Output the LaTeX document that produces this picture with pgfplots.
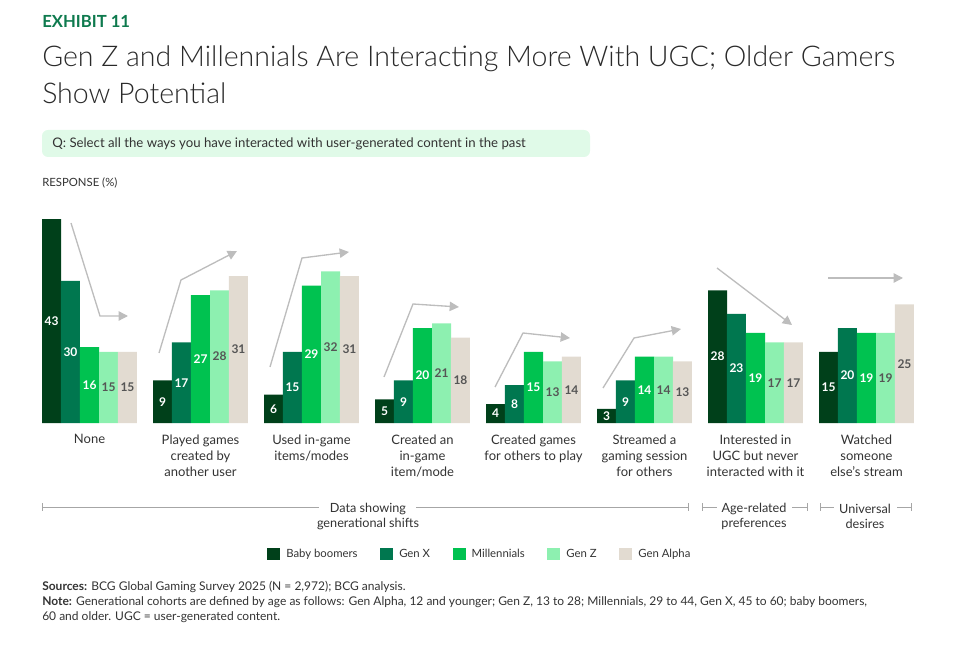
\documentclass[border=0pt]{standalone}
\usepackage{fontspec}
\setmainfont{Lato}
\newfontfamily\lightfont{Lato Light}
\usepackage{pgfplots}
\usepackage{pgfplotstable}
\pgfplotsset{compat=1.18}
\usetikzlibrary{arrows.meta}

% Cohort colours
\definecolor{boomer}{HTML}{00401A}
\definecolor{genx}{HTML}{00774F}
\definecolor{millen}{HTML}{00C250}
\definecolor{genz}{HTML}{8DF0B0}
\definecolor{alpha}{HTML}{E2DBD1}
% Text and rule colours
\definecolor{exhibit}{HTML}{0E7A4E}
\definecolor{titleink}{HTML}{2A2A2A}
\definecolor{inktext}{HTML}{333333}
\definecolor{valgray}{HTML}{555555}
\definecolor{trend}{HTML}{BDBDBD}
\definecolor{rulegray}{HTML}{A6A6A6}
\definecolor{qbox}{HTML}{E0FAE8}

% Share of respondents (%) by activity (g) and cohort
\pgfplotstableread{
g  bb  gx  mil  gz  ga
0  43  30  16   15  15
1  9   17  27   28  31
2  6   15  29   32  31
3  5   9   20   21  18
4  4   8   15   13  14
5  3   9   14   14  13
6  28  23  19   17  17
7  15  20  19   19  25
}\shares

\pgfplotsset{
  sqlegend/.style={legend image code/.code={\fill[##1] (0pt,-4.3pt) rectangle (9.75pt,4.3pt);}},
  cohortbar/.style={ybar, bar width=0.1712, bar shift=#1, draw=none, sqlegend},
  vlabel/.style={forget plot, draw=none, mark=none, nodes near coords,
    point meta=explicit,
    /pgf/number format/assume math mode=true,
    nodes near coords style={anchor=center, inner sep=0pt,
      font=\bfseries\fontsize{9}{10}\selectfont, text=#1}},
}

\begin{document}
\begin{tikzpicture}
\useasboundingbox (0,0) rectangle (723pt,485.25pt);

\begin{axis}[
  at={(25.5pt,168pt)}, anchor=south west,
  scale only axis, width=666pt, height=160pt,
  xmin=-0.5, xmax=7.5, ymin=0, ymax=45,
  clip=false,
  axis line style={draw=none},
  tick style={draw=none},
  major tick length=0pt,
  ytick=\empty,
  xtick={0,...,7},
  xticklabels={
    None,
    {Played games\\created by\\another user},
    {Used in-game\\items/modes},
    {Created an\\in-game\\item/mode},
    {Created games\\for others to play},
    {Streamed a\\gaming session\\for others},
    {Interested in\\UGC but never\\interacted with it},
    {Watched\\someone\\else’s stream}},
  xticklabel style={align=center, anchor=north, inner sep=0pt, yshift=-8.5pt,
    font=\fontsize{9.75}{12}\selectfont, text=inktext},
  legend columns=5,
  legend style={at={(0.2624,-0.614)}, anchor=west, draw=none, inner sep=0pt,
    font=\fontsize{8.5}{10}\selectfont, text=inktext,
    /tikz/every odd column/.append style={column sep=2.5pt},
    /tikz/every even column/.append style={column sep=15pt}},
]
\addplot[cohortbar=-0.3423, fill=boomer] table[x=g, y=bb] {\shares};
\addplot[cohortbar=-0.1712, fill=genx]   table[x=g, y=gx] {\shares};
\addplot[cohortbar=0,       fill=millen] table[x=g, y=mil] {\shares};
\addplot[cohortbar=0.1712,  fill=genz]   table[x=g, y=gz] {\shares};
\addplot[cohortbar=0.3423,  fill=alpha]  table[x=g, y=ga] {\shares};
\legend{Baby boomers, Gen X, Millennials, Gen Z, Gen Alpha}

% value labels, centred inside each bar
\addplot[vlabel=white]   table[x expr=\thisrow{g}-0.3423, y expr=\thisrow{bb}/2,  meta=bb]  {\shares};
\addplot[vlabel=white]   table[x expr=\thisrow{g}-0.1712, y expr=\thisrow{gx}/2,  meta=gx]  {\shares};
\addplot[vlabel=white]   table[x expr=\thisrow{g},        y expr=\thisrow{mil}/2, meta=mil] {\shares};
\addplot[vlabel=valgray] table[x expr=\thisrow{g}+0.1712, y expr=\thisrow{gz}/2,  meta=gz]  {\shares};
\addplot[vlabel=valgray] table[x expr=\thisrow{g}+0.3423, y expr=\thisrow{ga}/2,  meta=ga]  {\shares};
\end{axis}

% page furniture in a top-left based grid (1 unit = 0.75pt)
\begin{scope}[x=0.75pt, y=-0.75pt, yshift=485.25pt]
  \node[anchor=base west, inner sep=0pt, text=exhibit,
    font=\bfseries\fontsize{12.5}{14}\selectfont] at (42,28) {EXHIBIT 11};
  \node[anchor=base west, inner sep=0pt, text=titleink,
    font=\lightfont\fontsize{21.4}{25}\selectfont] at (42,67)
    {Gen Z and Millennials Are Interacting More With UGC; Older Gamers};
  \node[anchor=base west, inner sep=0pt, text=titleink,
    font=\lightfont\fontsize{21.4}{25}\selectfont] at (42,104) {Show Potential};

  \fill[qbox, rounded corners=4.5pt] (42,130) rectangle (590,157);
  \node[anchor=base west, inner sep=0pt, text=inktext,
    font=\fontsize{9.9}{12}\selectfont] at (52,148)
    {Q: Select all the ways you have interacted with user-generated content in the past};

  \node[anchor=base west, inner sep=0pt, text=inktext,
    font=\fontsize{8.5}{10}\selectfont] at (42,187) {RESPONSE (\%)};

  % trend arrows above each group
  \begin{scope}[draw=trend, line width=1pt, -{Triangle[length=7pt, width=7pt]}]
    \draw (71,223) -- (100,316) -- (128,316);
    \draw (159,353) -- (181,280) -- (237,251);
    \draw (270,367) -- (302,258) -- (349,252);
    \draw (384,377) -- (413,304) -- (459,307);
    \draw (495,387) -- (523,333) -- (570,338);
    \draw (603,388) -- (634,338) -- (681,329);
    \draw (717,268) -- (792,325);
    \draw (828,278) -- (903,278);
  \end{scope}

  % grouping brackets
  \begin{scope}[draw=rulegray, line width=0.6pt]
    \draw (42,503) -- (42,511) (42,507) -- (319,507);
    \draw (416,507) -- (688,507) (688,503) -- (688,511);
    \draw (702,503) -- (702,511) (702,507) -- (717,507);
    \draw (792,507) -- (807,507) (807,503) -- (807,511);
    \draw (820,503) -- (820,511) (820,507) -- (834,507);
    \draw (897,507) -- (911,507) (911,503) -- (911,511);
  \end{scope}
  \begin{scope}[every node/.style={align=center, inner sep=0pt, text=inktext,
      font=\fontsize{9.5}{11.25}\selectfont}]
    \node at (368,516) {Data showing\\generational shifts};
    \node at (754,516) {Age-related\\preferences};
    \node at (865,516) {Universal\\desires};
  \end{scope}

  \begin{scope}[every node/.style={anchor=base west, inner sep=0pt, text=inktext,
      font=\fontsize{9}{11}\selectfont}]
    \node at (42,590) {\textbf{Sources:} BCG Global Gaming Survey 2025 (N = 2,972); BCG analysis.};
    \node at (42,605) {\textbf{Note:} Generational cohorts are defined by age as follows: Gen Alpha, 12 and younger; Gen Z, 13 to 28; Millennials, 29 to 44, Gen X, 45 to 60; baby boomers,};
    \node at (42,620) {60 and older. UGC = user-generated content.};
  \end{scope}
\end{scope}
\end{tikzpicture}
\end{document}
